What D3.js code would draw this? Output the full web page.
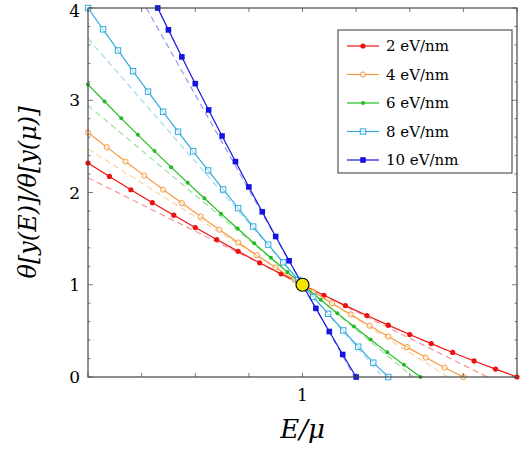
<!DOCTYPE html>
<html><head><meta charset="utf-8">
<script src="https://cdn.jsdelivr.net/npm/d3@7"></script>
<style>body{margin:0;background:#fff}</style></head>
<body><svg id="c" width="520" height="449"></svg>
<script>
const labels = ["2 eV/nm","4 eV/nm","6 eV/nm","8 eV/nm","10 eV/nm"];
const colors = ["#ee1111","#f59a3c","#22bb22","#33aadd","#1515e0"];
const shapes = ["dot","ocircle","sdot","osquare","square"];
const xRed = [0.2,0.28,0.36,0.44,0.52,0.6,0.68,0.76,0.84,0.92,1.0,1.08,1.16,1.24,1.32,1.4,1.48,1.56,1.64,1.72,1.8];
const yRed = [2.32,2.174,2.03,1.89,1.754,1.62,1.49,1.362,1.238,1.118,1,0.886,0.774,0.666,0.562,0.46,0.362,0.266,0.174,0.086,0];
const xOrange = [0.2,0.27,0.34,0.41,0.48,0.55,0.62,0.69,0.76,0.83,0.9,0.97,1.04,1.11,1.18,1.25,1.32,1.39,1.46,1.53,1.6];
const yOrange = [2.65,2.492,2.336,2.183,2.032,1.885,1.74,1.597,1.458,1.321,1.187,1.055,0.926,0.8,0.677,0.556,0.439,0.324,0.211,0.101,0];
const xGreen = [0.2,0.262,0.324,0.386,0.448,0.51,0.572,0.634,0.696,0.758,0.82,0.882,0.944,1.006,1.068,1.13,1.192,1.254,1.316,1.378,1.44];
const yGreen = [3.17,2.986,2.804,2.625,2.449,2.275,2.105,1.937,1.771,1.609,1.449,1.292,1.137,0.985,0.837,0.69,0.547,0.406,0.267,0.133,0];
const xCyan = [0.2,0.256,0.312,0.368,0.424,0.48,0.536,0.592,0.648,0.704,0.76,0.816,0.872,0.928,0.984,1.04,1.096,1.152,1.208,1.264,1.32];
const yCyan = [4,3.769,3.54,3.315,3.093,2.875,2.659,2.447,2.239,2.033,1.831,1.631,1.435,1.243,1.053,0.868,0.685,0.505,0.328,0.155,0];
const xBlue = [0.46,0.5,0.55,0.6,0.65,0.7,0.75,0.8,0.85,0.9,0.95,1.0,1.05,1.1,1.15,1.2];
const yBlue = [4.0,3.763,3.47,3.18,2.895,2.613,2.335,2.06,1.79,1.523,1.26,1,0.744,0.493,0.244,0];
const slopes = [-1.45,-1.842,-2.429,-3.337,-5.15];
const xTicks = [0.2,0.4,0.6,0.8,1.0,1.2,1.4,1.6,1.8];
const yTicks = [0,1,2,3,4];
const yMinor = [0.2,0.4,0.6,0.8,1.2,1.4,1.6,1.8,2.2,2.4,2.6,2.8,3.2,3.4,3.6,3.8];

const xs=[xRed,xOrange,xGreen,xCyan,xBlue], ys=[yRed,yOrange,yGreen,yCyan,yBlue];
const svg=d3.select("#c");
const L=88,R=517,T=8,B=377;
const x=d3.scaleLinear().domain([0.2,1.8]).range([L,R]);
const y=d3.scaleLinear().domain([0,4]).range([B,T]);
const serif="'DejaVu Serif','Liberation Serif',serif";
svg.append("defs").append("clipPath").attr("id","cp").append("rect").attr("x",L-4).attr("y",T-4).attr("width",R-L+8).attr("height",B-T+8);
const g=svg.append("g").attr("clip-path","url(#cp)");
slopes.forEach((s,i)=>{
  const x0=Math.max(0.2,1+3/s), x1=Math.min(1.8,1-1/s);
  g.append("line").attr("x1",x(x0)).attr("y1",y(1+s*(x0-1))).attr("x2",x(x1)).attr("y2",y(1+s*(x1-1)))
   .attr("stroke",colors[i]).attr("stroke-opacity",0.45).attr("stroke-width",1.2).attr("stroke-dasharray","6,4");
});
const line=d3.line().x(d=>x(d[0])).y(d=>y(d[1]));
function marker(sel,shape,c){
  if(shape==="dot") sel.append("circle").attr("r",2.6).attr("fill",c);
  else if(shape==="ocircle") sel.append("circle").attr("r",2.6).attr("fill","#fff").attr("fill-opacity",0.6).attr("stroke",c).attr("stroke-width",1);
  else if(shape==="sdot") sel.append("circle").attr("r",2).attr("fill",c);
  else if(shape==="osquare") sel.append("rect").attr("x",-2.7).attr("y",-2.7).attr("width",5.4).attr("height",5.4).attr("fill","#fff").attr("fill-opacity",0.6).attr("stroke",c).attr("stroke-width",1);
  else sel.append("rect").attr("x",-2.8).attr("y",-2.8).attr("width",5.6).attr("height",5.6).attr("fill",c);
}
xs.forEach((xa,i)=>{
  const pts=xa.map((v,k)=>[v,ys[i][k]]);
  g.append("path").datum(pts).attr("d",line).attr("fill","none").attr("stroke",colors[i]).attr("stroke-width",1.2);
  pts.forEach(p=>{const m=g.append("g").attr("transform",`translate(${x(p[0])},${y(p[1])})`);marker(m,shapes[i],colors[i]);});
});
svg.append("circle").attr("cx",x(1)).attr("cy",y(1)).attr("r",6.5).attr("fill","#f5e600").attr("stroke","#000").attr("stroke-width",1.2);
svg.append("rect").attr("x",L).attr("y",T).attr("width",R-L).attr("height",B-T).attr("fill","none").attr("stroke","#444").attr("stroke-width",1.2);
const tk=svg.append("g").attr("stroke","#555").attr("stroke-width",0.8);
xTicks.forEach(v=>{tk.append("line").attr("x1",x(v)).attr("x2",x(v)).attr("y1",B).attr("y2",B-4);tk.append("line").attr("x1",x(v)).attr("x2",x(v)).attr("y1",T).attr("y2",T+4);});
yTicks.forEach(v=>{tk.append("line").attr("x1",L).attr("x2",L+5).attr("y1",y(v)).attr("y2",y(v));tk.append("line").attr("x1",R).attr("x2",R-5).attr("y1",y(v)).attr("y2",y(v));});
yMinor.forEach(v=>{tk.append("line").attr("x1",L).attr("x2",L+2.5).attr("y1",y(v)).attr("y2",y(v));tk.append("line").attr("x1",R).attr("x2",R-2.5).attr("y1",y(v)).attr("y2",y(v));});
yTicks.forEach(v=>svg.append("text").attr("x",L-8).attr("y",Math.max(y(v)+6,17)).attr("text-anchor","end").attr("font-family",serif).attr("font-size",17).text(v));
svg.append("text").attr("x",x(1)).attr("y",B+24).attr("text-anchor","middle").attr("font-family",serif).attr("font-size",17).text("1");
svg.append("text").attr("x",x(1)).attr("y",438).attr("text-anchor","middle").attr("font-family",serif).attr("font-style","italic").attr("font-size",26).text("E/μ");
svg.append("text").attr("transform",`translate(36,${(T+B)/2}) rotate(-90)`).attr("text-anchor","middle").attr("font-family",serif).attr("font-style","italic").attr("font-size",24).text("θ[y(E)]/θ[y(μ)]");
const lg=svg.append("g");
lg.append("rect").attr("x",338).attr("y",30).attr("width",174).attr("height",143).attr("fill","#fff").attr("stroke","#333").attr("stroke-width",1);
labels.forEach((t,i)=>{
  const yy=46+i*28.5;
  lg.append("line").attr("x1",347).attr("x2",379).attr("y1",yy).attr("y2",yy).attr("stroke",colors[i]).attr("stroke-width",1.2);
  marker(lg.append("g").attr("transform",`translate(363,${yy})`),shapes[i],colors[i]);
  lg.append("text").attr("x",386).attr("y",yy+5).attr("font-family",serif).attr("font-size",15).text(t);
});
</script></body></html>
